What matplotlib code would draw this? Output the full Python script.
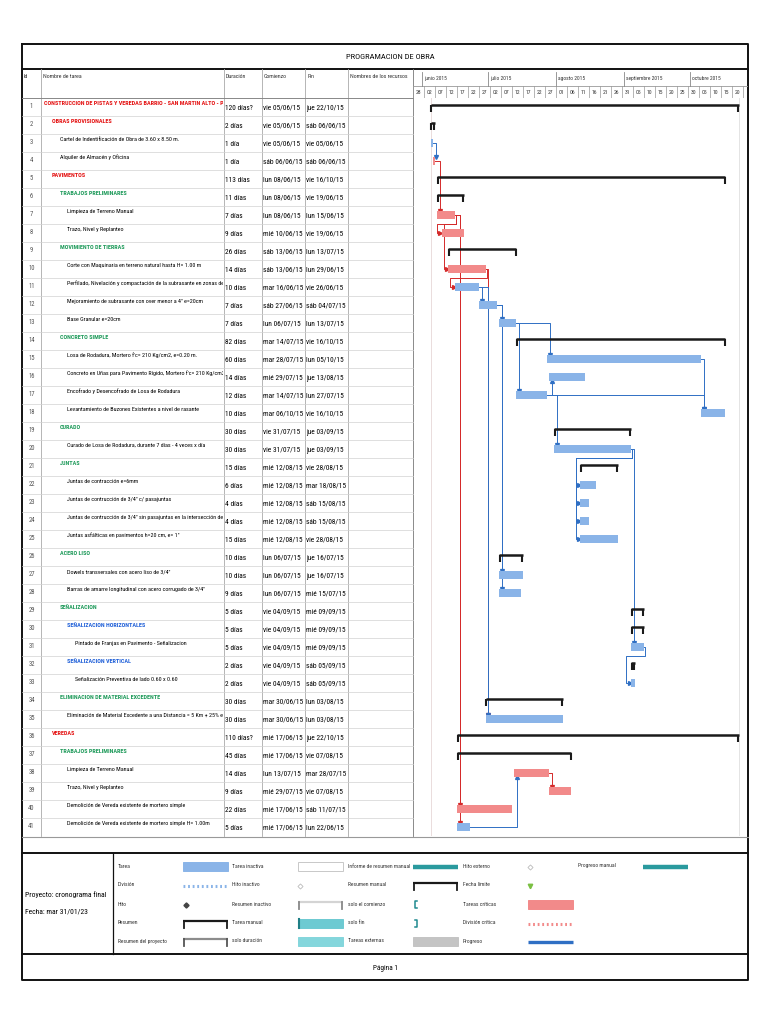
import matplotlib
matplotlib.use("Agg")
import matplotlib.pyplot as plt
import matplotlib.dates as mdates
from matplotlib import font_manager
from matplotlib.font_manager import FontProperties
from matplotlib.patches import Rectangle
from matplotlib.transforms import Bbox, TransformedBbox
from datetime import datetime
import pandas as pd

# ---------------- datos ----------------
ids = list(range(1, 42))
nombres = [
    "CONSTRUCCION DE PISTAS Y VEREDAS BARRIO - SAN MARTIN ALTO - PROVINCIA",
    "OBRAS PROVISIONALES",
    "Cartel de Indentificación de Obra de 3.60 x 8.50 m.",
    "Alquiler de Almacén y Oficina",
    "PAVIMENTOS",
    "TRABAJOS PRELIMINARES",
    "Limpieza de Terreno Manual",
    "Trazo, Nivel y Replanteo",
    "MOVIMIENTO DE TIERRAS",
    "Corte con Maquinaria en terreno natural hasta H= 1.00 m",
    "Perfilado, Nivelación y compactación de la subrasante en zonas de corte",
    "Mejoramiento de subrasante con over menor a 4\" e=20cm",
    "Base Granular e=20cm",
    "CONCRETO SIMPLE",
    "Losa de Rodadura, Mortero f'c= 210 Kg/cm2, e=0.20 m.",
    "Concreto en Uñas para Pavimento Rígido, Mortero f'c= 210 Kg/cm2",
    "Encofrado y Desencofrado de Losa de Rodadura",
    "Levantamiento de Buzones Existentes a nivel de rasante",
    "CURADO",
    "Curado de Losa de Rodadura, durante 7 días - 4 veces x día",
    "JUNTAS",
    "Juntas de contracción e=6mm",
    "Juntas de contrucción de 3/4\" c/ pasajuntas",
    "Juntas de contrucción de 3/4\" sin pasajuntas en la intersección de calles",
    "Juntas asfálticas en pavimentos h=20 cm, e= 1\"",
    "ACERO LISO",
    "Dowels transversales con acero liso de 3/4\"",
    "Barras de amarre longitudinal con acero corrugado de 3/4\"",
    "SEÑALIZACION",
    "SEÑALIZACION HORIZONTALES",
    "Pintado de Franjas en Pavimento - Señalizacion",
    "SEÑALIZACION VERTICAL",
    "Señalización Preventiva de lado 0.60 x 0.60",
    "ELIMINACION DE MATERIAL EXCEDENTE",
    "Eliminación de Material Excedente a una Distancia = 5 Km + 25% esponjamiento",
    "VEREDAS",
    "TRABAJOS PRELIMINARES",
    "Limpieza de Terreno Manual",
    "Trazo, Nivel y Replanteo",
    "Demolición de Vereda existente de mortero simple",
    "Demolición de Vereda existente de mortero simple H= 1.00m",
]
nivel = [0, 1, 2, 2, 1, 2, 3, 3, 2, 3, 3, 3, 3, 2, 3, 3, 3, 3, 2, 3, 2,
         3, 3, 3, 3, 2, 3, 3, 2, 3, 4, 3, 4, 2, 3, 1, 2, 3, 3, 3, 3]
duracion = ["120 días?", "2 días", "1 día", "1 día", "113 días", "11 días", "7 días",
            "9 días", "26 días", "14 días", "10 días", "7 días", "7 días", "82 días",
            "60 días", "14 días", "12 días", "10 días", "30 días", "30 días", "15 días",
            "6 días", "4 días", "4 días", "15 días", "10 días", "10 días", "9 días",
            "5 días", "5 días", "5 días", "2 días", "2 días", "30 días", "30 días",
            "110 días?", "45 días", "14 días", "9 días", "22 días", "5 días"]
comienzo = ["vie 05/06/15", "vie 05/06/15", "vie 05/06/15", "sáb 06/06/15", "lun 08/06/15",
            "lun 08/06/15", "lun 08/06/15", "mié 10/06/15", "sáb 13/06/15", "sáb 13/06/15",
            "mar 16/06/15", "sáb 27/06/15", "lun 06/07/15", "mar 14/07/15", "mar 28/07/15",
            "mié 29/07/15", "mar 14/07/15", "mar 06/10/15", "vie 31/07/15", "vie 31/07/15",
            "mié 12/08/15", "mié 12/08/15", "mié 12/08/15", "mié 12/08/15", "mié 12/08/15",
            "lun 06/07/15", "lun 06/07/15", "lun 06/07/15", "vie 04/09/15", "vie 04/09/15",
            "vie 04/09/15", "vie 04/09/15", "vie 04/09/15", "mar 30/06/15", "mar 30/06/15",
            "mié 17/06/15", "mié 17/06/15", "lun 13/07/15", "mié 29/07/15", "mié 17/06/15",
            "mié 17/06/15"]
fin = ["jue 22/10/15", "sáb 06/06/15", "vie 05/06/15", "sáb 06/06/15", "vie 16/10/15",
       "vie 19/06/15", "lun 15/06/15", "vie 19/06/15", "lun 13/07/15", "lun 29/06/15",
       "vie 26/06/15", "sáb 04/07/15", "lun 13/07/15", "vie 16/10/15", "lun 05/10/15",
       "jue 13/08/15", "lun 27/07/15", "vie 16/10/15", "jue 03/09/15", "jue 03/09/15",
       "vie 28/08/15", "mar 18/08/15", "sáb 15/08/15", "sáb 15/08/15", "vie 28/08/15",
       "jue 16/07/15", "jue 16/07/15", "mié 15/07/15", "mié 09/09/15", "mié 09/09/15",
       "mié 09/09/15", "sáb 05/09/15", "sáb 05/09/15", "lun 03/08/15", "lun 03/08/15",
       "jue 22/10/15", "vie 07/08/15", "mar 28/07/15", "vie 07/08/15", "sáb 11/07/15",
       "lun 22/06/15"]
resumenes = {1, 2, 5, 6, 9, 14, 19, 21, 26, 29, 30, 32, 34, 36, 37}
criticas = {4, 7, 8, 10, 38, 39, 40}
texto_rojo = {1, 2, 5, 36}
texto_verde = {6, 9, 14, 19, 21, 26, 29, 34, 37}
texto_azul = {30, 32}
vinculos = [(3, 4), (4, 7), (7, 8), (7, 10), (10, 11), (11, 12), (12, 13), (13, 15),
            (13, 17), (17, 16), (17, 18), (15, 18), (17, 20), (20, 22), (20, 23),
            (20, 24), (20, 25), (20, 31), (31, 33), (12, 27), (12, 28), (10, 35),
            (11, 35), (7, 40), (7, 41), (41, 38), (38, 39)]

meses = ["junio 2015", "julio 2015", "agosto 2015", "septiembre 2015", "octubre 2015"]
meses_ini = ["2015-06-01", "2015-07-01", "2015-08-01", "2015-09-01", "2015-10-01"]
escala_ini = "2015-05-28"
DIAS_VISTA = 152.3

columnas = ["Id", "Nombre de tarea", "Duración", "Comienzo", "Fin", "Nombres de los recursos"]

leyenda = [
    [("Tarea", "tarea"), ("División", "division"), ("Hito", "hito"),
     ("Resumen", "resumen"), ("Resumen del proyecto", "resumen_proy")],
    [("Tarea inactiva", "inactiva"), ("Hito inactivo", "hito_inact"),
     ("Resumen inactivo", "resumen_inact"), ("Tarea manual", "manual"),
     ("solo duración", "solo_dur")],
    [("Informe de resumen manual", "informe"), ("Resumen manual", "resumen"),
     ("solo el comienzo", "solo_com"), ("solo fin", "solo_fin"),
     ("Tareas externas", "externas")],
    [("Hito externo", "hito_ext"), ("Fecha límite", "fecha_lim"),
     ("Tareas críticas", "criticas"), ("División crítica", "div_critica"),
     ("Progreso", "progreso")],
    [("Progreso manual", "prog_manual")],
]

AZUL = "#8AB4E8"
ROJO = "#F28A8A"
LINK_AZUL = "#2F6FC4"
LINK_ROJO = "#D42A2A"


# ---------------- fuentes (se busca una angosta) ----------------
def peso(f):
    if isinstance(f.weight, int):
        return f.weight
    return {"normal": 400, "regular": 400, "book": 400, "medium": 500, "bold": 700}.get(f.weight, 400)


angostas = [f for f in font_manager.fontManager.ttflist
            if f.stretch in ("condensed", "semi-condensed", "extra-condensed")
            or "Narrow" in f.name or "Condensed" in f.name]
pref = ["Liberation Sans Narrow", "Roboto Condensed", "Open Sans Condensed", "Noto Sans",
        "DejaVu Sans", "Open Sans", "Roboto"]
angostas.sort(key=lambda f: pref.index(f.name) if f.name in pref else 99)
reg = [f for f in angostas if f.style == "normal" and peso(f) == 400]
neg = [f for f in angostas if f.style == "normal" and peso(f) == 700]
if reg:
    FP = FontProperties(fname=reg[0].fname)
    negs = [f for f in neg if f.name == reg[0].name and f.stretch == reg[0].stretch]
    FPB = FontProperties(fname=negs[0].fname) if negs else FontProperties(fname=reg[0].fname, weight="bold")
else:
    FP = FontProperties(family="Liberation Sans")
    FPB = FontProperties(family="Liberation Sans", weight="bold")


def fecha(txt):
    return mdates.date2num(datetime.strptime(txt.split()[-1], "%d/%m/%y"))


ini = [fecha(t) for t in comienzo]
fin_n = [fecha(t) + 1 for t in fin]
n = len(ids)

# ---------------- figura ----------------
W, H = 768, 1024
fig = plt.figure(figsize=(7.68, 10.24), dpi=100)
renderer = fig.canvas.get_renderer()


def tam(muestra, ancho_px, fp=FP):
    t = fig.text(0, 0, muestra, fontproperties=fp, fontsize=10)
    w = t.get_window_extent(renderer).width
    t.remove()
    return 10 * ancho_px / w


FS_FECHA = min(tam("vie 05/06/15", 37), tam("120 días?", 29.5))
FS_NOMBRE = tam("Cartel de Indentificación de Obra de 3.60 x 8.50 m.", 118)
FS_TITULO = tam("OBRAS PROVISIONALES", 60, FPB)
FS_CAB = tam("Nombres de los recursos", 58)
FS_MES = tam("septiembre 2015", 36)
FS_DIA = tam("28", 5.5)
FS_LEY = tam("Informe de resumen manual", 62)
FS_PROY = tam("Proyecto: cronograma final", 82)

bg = fig.add_axes([0, 0, 1, 1])
bg.set_xlim(0, W)
bg.set_ylim(H, 0)
bg.axis("off")

L, R = 22, 748
TOP, TITLE_B, HEAD_B = 44, 69, 98
ROW_H = 18
TAB_B = HEAD_B + ROW_H * n
LEG_T, LEG_B, BOTTOM = 853, 954, 980
COLS = [22, 41, 224, 262, 305, 348, 413]
GX0 = COLS[-1]

# marcos
bg.plot([L, R, R, L, L], [TOP, TOP, BOTTOM, BOTTOM, TOP], color="#111", lw=1.4)
for yy in (TITLE_B, LEG_T, LEG_B):
    bg.plot([L, R], [yy, yy], color="#111", lw=1.4)
bg.plot([L, R], [TAB_B + 1, TAB_B + 1], color="#999", lw=0.8)
bg.plot([113, 113], [LEG_T, LEG_B], color="#111", lw=0.9)
bg.text(390, 57, "PROGRAMACION DE OBRA", ha="center", va="center",
        fontproperties=FP, fontsize=tam("PROGRAMACION DE OBRA", 89), color="#111")

# tabla
for x in COLS[1:]:
    bg.plot([x, x], [TITLE_B, TAB_B], color="#777" if x == GX0 else "#aaa", lw=0.6)
bg.plot([L, GX0], [HEAD_B, HEAD_B], color="#888", lw=0.7)
for i in range(1, n):
    yy = HEAD_B + i * ROW_H
    bg.plot([L, GX0], [yy, yy], color="#d2d2d2", lw=0.5)
for x, lab in zip(COLS[:-1], columnas):
    bg.text(x + 2, 77, lab, ha="left", va="center", fontproperties=FP,
            fontsize=FS_CAB, color="#333")

clip = TransformedBbox(Bbox([[COLS[1], HEAD_B], [COLS[2] - 0.8, TAB_B]]), bg.transData)
for i in range(n):
    y = HEAD_B + (i + 0.5) * ROW_H
    tid = ids[i]
    bg.text((COLS[0] + COLS[1]) / 2, y, str(tid), ha="center", va="center",
            fontproperties=FP, fontsize=FS_FECHA * 0.9, color="#555")
    if tid in texto_rojo:
        col, fp, fs = "#E41010", FPB, FS_TITULO
    elif tid in texto_verde:
        col, fp, fs = "#1E9A5A", FPB, FS_TITULO
    elif tid in texto_azul:
        col, fp, fs = "#2060D8", FPB, FS_TITULO
    else:
        col, fp, fs = "#000", FP, FS_NOMBRE
    t = bg.text(44.5 + 7.6 * nivel[i], y - 3.5, nombres[i], ha="left", va="center",
                fontproperties=fp, fontsize=fs, color=col)
    t.set_clip_on(True)
    t.set_clip_box(clip)
    for x, txt in ((COLS[2], duracion[i]), (COLS[3], comienzo[i]), (COLS[4], fin[i])):
        bg.text(x + 1.2, y + 1, txt, ha="left", va="center", fontproperties=FP,
                fontsize=FS_FECHA, color="#000")

# ---------------- escala de tiempo ----------------
x_ini = mdates.date2num(pd.Timestamp(escala_ini))
xlim = (x_ini, x_ini + DIAS_VISTA)

hx = fig.add_axes([GX0 / W, 1 - HEAD_B / H, (R - GX0) / W, (HEAD_B - TITLE_B) / H])
hx.set_xlim(*xlim)
hx.set_ylim(1, 0)
hx.axis("off")
hx.plot(xlim, [0.6, 0.6], color="#999", lw=0.6)
for m, lab in zip(meses_ini, meses):
    xm = mdates.date2num(pd.Timestamp(m))
    hx.plot([xm, xm], [0.1, 0.6], color="#888", lw=0.6)
    hx.text(xm + 1.0, 0.32, lab, ha="left", va="center", fontproperties=FP,
            fontsize=FS_MES, color="#333")
for d in pd.date_range(escala_ini, periods=31, freq="5D"):
    xd = mdates.date2num(d)
    hx.plot([xd, xd], [0.6, 1.0], color="#999", lw=0.5)
    if xd + 5 > xlim[1]:
        break
    hx.text(xd + 2.5, 0.82, d.strftime("%d"), ha="center", va="center", fontproperties=FP,
            fontsize=FS_DIA, color="#333")

# ---------------- gantt ----------------
gx = fig.add_axes([GX0 / W, 1 - TAB_B / H, (R - GX0) / W, (TAB_B - HEAD_B) / H])
gx.set_xlim(*xlim)
gx.set_ylim(n + 0.5, 0.5)
gx.axis("off")
gx.axvline(ini[0], color="#eadcdc", lw=0.7)
gx.axvline(fin_n[0], color="#e4e4e4", lw=0.7)

BAR_H = 0.47
XOFF = 1.3


def fila(tid):
    return ids.index(tid) + 1


for lp, ls in vinculos:
    p, s = fila(lp), fila(ls)
    col = LINK_ROJO if lp in criticas else LINK_AZUL
    pe, ss = fin_n[p - 1], ini[s - 1]
    abajo = s > p
    if ss >= pe - 0.01:
        xv = ss + XOFF
        yend = s - BAR_H / 2 if abajo else s + BAR_H / 2
        gx.plot([pe, xv, xv], [p, p, yend], color=col, lw=0.7)
        gx.plot(xv, yend, marker="v" if abajo else "^", color=col, ms=2.8)
    else:
        yb = p + 0.5 if abajo else p - 0.5
        xl = ss - XOFF * 1.6
        gx.plot([pe, pe + 0.7, pe + 0.7, xl, xl, ss], [p, p, yb, yb, s, s], color=col, lw=0.7)
        gx.plot(ss - 0.5, s, marker=">", color=col, ms=2.8)

for i in range(n):
    r = i + 1
    s, e = ini[i], fin_n[i]
    if ids[i] in resumenes:
        gx.plot([s, e], [r - 0.1, r - 0.1], color="#1a1a1a", lw=1.8, solid_capstyle="butt")
        for xe in (s + 0.35, e - 0.35):
            gx.plot([xe, xe], [r - 0.12, r + 0.3], color="#1a1a1a", lw=1.5, solid_capstyle="butt")
    else:
        gx.barh(r, e - s, left=s, height=BAR_H,
                color=ROJO if ids[i] in criticas else AZUL, zorder=3)

# ---------------- leyenda ----------------
bg.text(25, 895, "Proyecto: cronograma final", ha="left", va="center", fontproperties=FP,
        fontsize=FS_PROY)
bg.text(25, 912, "Fecha: mar 31/01/23", ha="left", va="center", fontproperties=FP,
        fontsize=FS_PROY)
bg.text(385, 968, "Página 1", ha="center", va="center", fontproperties=FP,
        fontsize=FS_PROY * 0.95)

LEG_Y = [866, 885, 904, 923, 941]
LEG_LX = [118, 232, 348, 463, 578]
LEG_SX = [183, 298, 413, 528, 643]
SW = 45


def corchete(x, y, col, tick=None):
    bg.plot([x, x + SW], [y - 2, y - 2], color=col, lw=1.6, solid_capstyle="butt")
    for xe in (x + 0.7, x + SW - 0.7):
        bg.plot([xe, xe], [y - 2, y + 5], color=tick or col, lw=1.3)


def simbolo(kind, x, y):
    rects = {"tarea": (AZUL, None), "inactiva": ("white", "#c8c8c8"), "manual": ("#6DCAD2", None),
             "solo_dur": ("#84D6DC", None), "externas": ("#C4C4C4", None), "criticas": (ROJO, None)}
    if kind in rects:
        fc, ec = rects[kind]
        bg.add_patch(Rectangle((x, y - 4), SW, 8.5, facecolor=fc,
                               edgecolor=ec or fc, lw=0.7))
        if kind == "manual":
            bg.plot([x + 0.8, x + 0.8], [y - 4, y + 4.5], color="#1f7f86", lw=1.5)
    elif kind in ("division", "div_critica"):
        bg.plot([x, x + SW], [y + 1, y + 1], color=AZUL if kind == "division" else ROJO,
                lw=2.2, linestyle=(0, (0.6, 0.9)))
    elif kind == "hito":
        bg.plot(x + 3, y + 1, marker="D", color="#444", ms=2.6)
    elif kind in ("hito_inact", "hito_ext"):
        bg.plot(x + 2, y + 1, marker="D", mfc="white", mec="#bbb", ms=2.6, mew=0.6)
    elif kind == "fecha_lim":
        bg.plot(x + 2, y + 1, marker="v", color="#7BC043", ms=3.2)
    elif kind == "resumen":
        corchete(x, y, "#1a1a1a")
    elif kind == "resumen_proy":
        corchete(x, y, "#8c8c8c", "#555")
    elif kind == "resumen_inact":
        corchete(x, y, "#d4d4d4", "#888")
    elif kind in ("informe", "prog_manual"):
        bg.plot([x, x + SW], [y + 1, y + 1], color="#2A9A9E", lw=3.2, solid_capstyle="butt")
    elif kind == "progreso":
        bg.plot([x, x + SW], [y + 1, y + 1], color=LINK_AZUL, lw=2.4, solid_capstyle="butt")
    elif kind == "solo_com":
        bg.plot([x + 4, x + 2, x + 2, x + 4], [y - 3, y - 3, y + 4, y + 4], color="#1f8a90", lw=1.1)
    elif kind == "solo_fin":
        bg.plot([x + 2, x + 4, x + 4, x + 2], [y - 3, y - 3, y + 4, y + 4], color="#1f8a90", lw=1.1)


for c, items in enumerate(leyenda):
    for r, (lab, kind) in enumerate(items):
        bg.text(LEG_LX[c], LEG_Y[r], lab, ha="left", va="center", fontproperties=FP,
                fontsize=FS_LEY, color="#333")
        simbolo(kind, LEG_SX[c], LEG_Y[r])

fig.savefig("out.png", dpi=100, facecolor="white")
